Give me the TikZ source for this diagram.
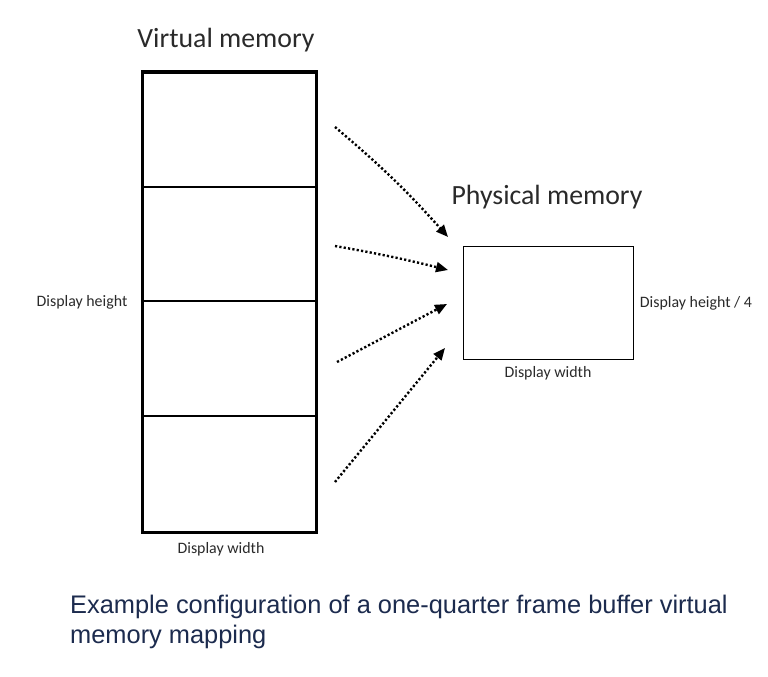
\documentclass[tikz,border=0pt]{standalone}
\usepackage{fontspec}
\setmainfont{Carlito}
\newfontfamily\capfont{Liberation Sans}
\usetikzlibrary{arrows.meta}
\definecolor{navy}{HTML}{1C2B4E}
\definecolor{lbl}{HTML}{2A2A2A}
\begin{document}
\begin{tikzpicture}[x=1pt,y=-1pt,
  title/.style={font=\fontsize{27.8}{30}\selectfont, text=lbl, inner sep=0pt, anchor=base},
  small/.style={font=\fontsize{15.9}{18}\selectfont, text=lbl, inner sep=0pt, anchor=base},
  dotarrow/.style={line width=2.4pt, dash pattern=on 2.2pt off 2.2pt, -{Triangle[length=12pt,width=10pt]}},
  divider/.style={line width=1.6pt}]
\useasboundingbox (0,0) rectangle (768,677);
\fill[white] (0,0) rectangle (768,677);
% Virtual memory
\node[draw, line width=3pt, minimum width=174pt, minimum height=460pt, inner sep=0pt] (vm) at (229,302) {};
\draw[divider] (142,187) coordinate (d1a) -- (316,187) coordinate (d1b);
\draw[divider] (142,301) coordinate (d2a) -- (316,301) coordinate (d2b);
\draw[divider] (142,416) coordinate (d3a) -- (316,416) coordinate (d3b);
\node[title] (vmt) at (226,48) {Virtual memory};
\node[small] (vmh) at (82,306) {Display height};
\node[small] (vmw) at (221,553) {Display width};
% Physical memory
\node[draw, line width=1pt, minimum width=170pt, minimum height=113pt, inner sep=0pt] (pm) at (548,302.5) {};
\node[title] (pmt) at (547,204) {Physical memory};
\node[small] (pmh) at (696,307) {Display height / 4};
\node[small] (pmw) at (548,377) {Display width};
% arrows
\coordinate (s1) at (335,127); \coordinate (e1) at (448,237);
\coordinate (s2) at (335,246); \coordinate (e2) at (448,270);
\coordinate (s3) at (337,362); \coordinate (e3) at (447,304);
\coordinate (s4) at (335,482); \coordinate (e4) at (445,348);
\draw[dotarrow] (s1) to[bend left=4] (e1);
\draw[dotarrow] (s2) to[bend left=2] (e2);
\draw[dotarrow] (s3) -- (e3);
\draw[dotarrow] (s4) -- (e4);
% caption
\node[font=\capfont\fontsize{25.4}{30}\selectfont, text=navy, inner sep=0pt, anchor=base west, align=left] (cap) at (70,643)
  {Example configuration of a one-quarter frame buffer virtual\\memory mapping};
\end{tikzpicture}
\end{document}
